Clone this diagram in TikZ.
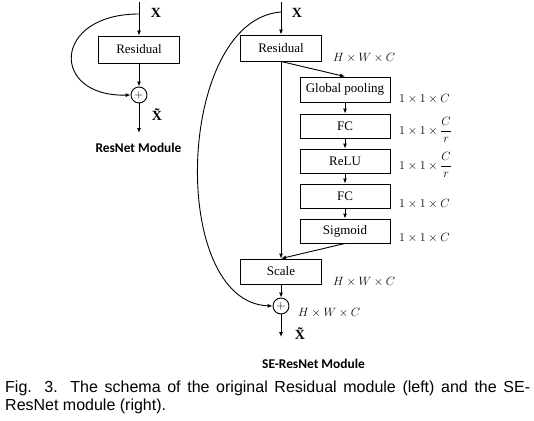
\documentclass[tikz,border=0pt]{standalone}
\usepackage{fontspec}
\setmainfont{Liberation Serif}
\newfontfamily\capfont{Liberation Sans}
\newfontfamily\modfont{Carlito}
\usetikzlibrary{arrows.meta}

\tikzset{
  block/.style={draw,line width=0.9pt,inner sep=0pt,font=\fontsize{13}{15}\selectfont},
  flow/.style={line width=0.9pt,-{Latex[length=5pt,width=4pt]}},
  skip/.style={line width=0.9pt,-{Latex[length=5pt,width=4pt]}},
  sum/.style={draw,circle,line width=0.9pt,minimum size=16pt,inner sep=0pt,font=\fontsize{13}{15}\selectfont},
  dim/.style={anchor=west,inner sep=0pt,font=\fontsize{12}{14}\selectfont},
  xlab/.style={font=\bfseries\fontsize{14}{16}\selectfont},
  title/.style={font=\modfont\bfseries\fontsize{13.4}{16}\selectfont},
}

\begin{document}
\begin{tikzpicture}[x=1pt,y=-1pt]
\useasboundingbox (0,0) rectangle (534,420);
% ResNet module (left)
\coordinate (lin) at (139,2);
\coordinate (lsplit) at (139,14);
\coordinate (lout) at (139,133);
\node[block,minimum width=81pt,minimum height=27pt] (lres) at (139,49.5) {Residual};
\node[sum] (lsum) at (139,95) {$+$};
\draw[flow] (lin) -- (lres.north);
\draw[flow] (lres.south) -- (lsum.north);
\draw[flow] (lsum.south) -- (lout);
\draw[skip] (lsplit) .. controls (52,14) and (50,97) .. (lsum.west);
\node[xlab] (lx) at (156,13) {X};
\node[xlab] (lxt) at (157,115) {\~X};
\node[title] (ltitle) at (138.5,148) {ResNet Module};
% SE-ResNet module (right)
\coordinate (rin) at (281,2);
\coordinate (rsplit) at (281,12);
\coordinate (rout) at (281,337);
\node[block,minimum width=81pt,minimum height=26pt] (rres) at (281,48) {Residual};
\node[block,minimum width=90pt,minimum height=25pt] (pool) at (345,89.5) {Global pooling};
\node[block,minimum width=90pt,minimum height=24pt] (fca) at (345,126) {FC};
\node[block,minimum width=90pt,minimum height=24pt] (relu) at (345,161) {ReLU};
\node[block,minimum width=90pt,minimum height=24pt] (fcb) at (345,196) {FC};
\node[block,minimum width=90pt,minimum height=24pt] (sig) at (345,231) {Sigmoid};
\node[block,minimum width=81pt,minimum height=25pt] (scale) at (281,271.5) {Scale};
\node[sum] (rsum) at (281,306) {$+$};
\draw[flow] (rin) -- (rres.north);
\draw[flow] (rres.south) -- (pool.north);
\draw[flow] (pool) -- (fca);
\draw[flow] (fca) -- (relu);
\draw[flow] (relu) -- (fcb);
\draw[flow] (fcb) -- (sig);
\draw[flow] (sig.south) -- (scale.north);
\draw[flow] (rres.south) -- (scale.north);
\draw[flow] (scale) -- (rsum);
\draw[flow] (rsum.south) -- (rout);
\draw[skip] (rsplit) .. controls (176,20) and (168,302) .. (rsum.west);
\node[xlab] (rx) at (297,13) {X};
\node[xlab] (rxt) at (300,334) {\~X};
\node[dim] (d1) at (333,58) {$H\times W\times C$};
\node[dim] (d2) at (399,99) {$1\times1\times C$};
\node[dim] (d3) at (399,130) {$1\times1\times\displaystyle\frac{C}{r}$};
\node[dim] (d4) at (399,165) {$1\times1\times\displaystyle\frac{C}{r}$};
\node[dim] (d5) at (399,204) {$1\times1\times C$};
\node[dim] (d6) at (399,238) {$1\times1\times C$};
\node[dim] (d7) at (333,282) {$H\times W\times C$};
\node[dim] (d8) at (298,313) {$H\times W\times C$};
\node[title] (rtitle) at (313.5,364) {SE-ResNet Module};
% caption
\node[anchor=north west,inner sep=0pt,text width=525pt,align=justify,
  font=\capfont\fontsize{16}{18}\selectfont] (cap) at (5,380.5)
  {Fig. 3. The schema of the original Residual module (left) and the SE-\linebreak ResNet module (right).};
\end{tikzpicture}
\end{document}
